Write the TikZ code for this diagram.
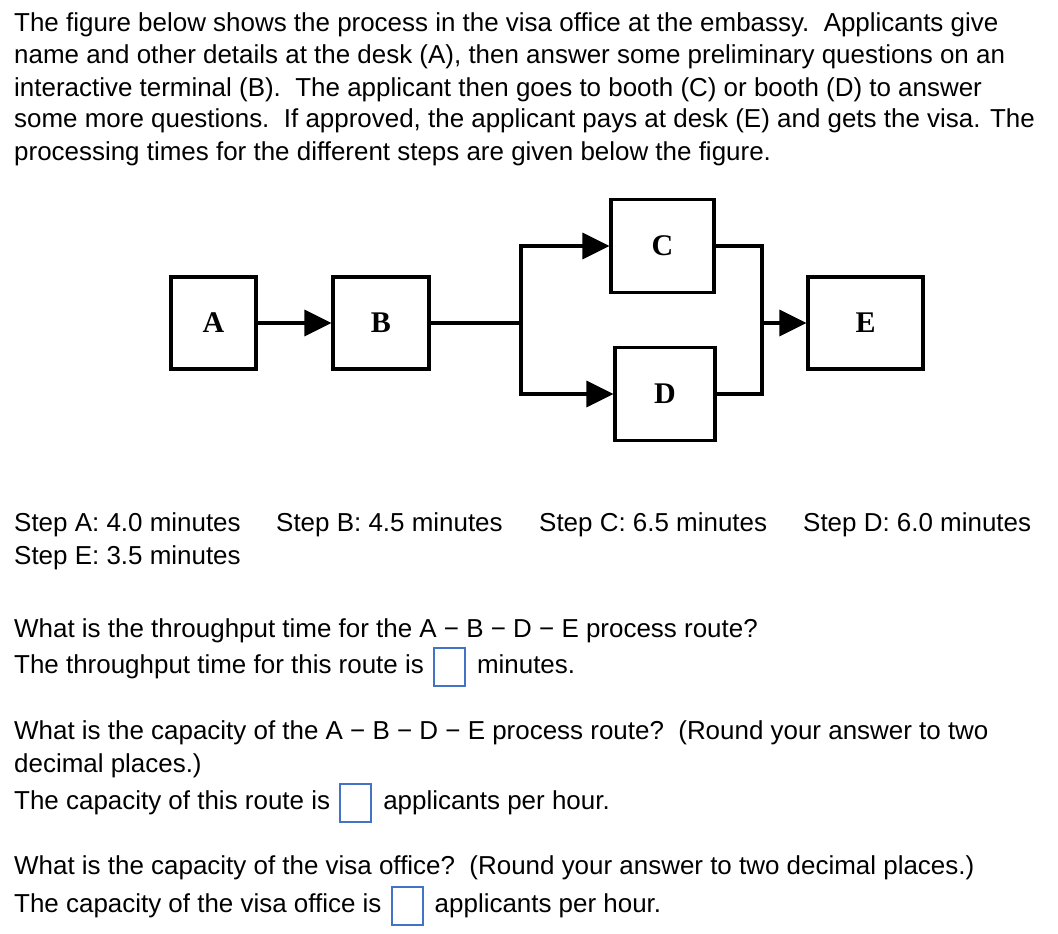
\documentclass[tikz,border=0pt]{standalone}
\usepackage{fontspec}
\setmainfont{Liberation Sans}
\newfontfamily\stepfont{Liberation Serif}
\usetikzlibrary{arrows.meta,positioning}
\definecolor{boxblue}{HTML}{4472C4}
\newcommand{\qsize}{\fontsize{25.95}{32}\selectfont}
\begin{document}
\begin{tikzpicture}[x=1pt,y=-1pt]
        % Styles
        \tikzstyle{txt}=[anchor=base west,inner sep=0pt,font=\qsize]
        \tikzstyle{stepbox}=[draw,line width=3.2pt,inner sep=0pt,font=\stepfont\bfseries\fontsize{30}{30}\selectfont]
        \tikzstyle{flow}=[line width=3.2pt]
        \tikzstyle{ansbox}=[draw=boxblue,line width=1.8pt,fill=white,minimum width=31pt,minimum height=38pt,inner sep=0pt]
        \useasboundingbox (0,0) rectangle (1058,934);
        % Intro text
        \node[txt] (l1) at (14,32) {The figure below shows the process in the visa office at the embassy.\ \ Applicants give};
        \node[txt] (l2) at (14,64) {name and other details at the desk (A), then answer some preliminary questions on an};
        \node[txt] (l3) at (14,96) {interactive terminal (B).\ \ The applicant then goes to booth (C) or booth (D) to answer};
        \node[txt] (l4) at (14,128) {some more questions.\ \ If approved, the applicant pays at desk (E) and gets the visa. The};
        \node[txt] (l5) at (14,160) {processing times for the different steps are given below the figure.};
        % The graphic
        \node[stepbox,minimum width=85pt,minimum height=92pt] (A) at (213.5,323) {A};
        \node[stepbox,minimum width=96pt,minimum height=92pt] (B) at (381,323) {B};
        \node[stepbox,minimum width=103pt,minimum height=93pt] (C) at (662.5,246) {C};
        \node[stepbox,minimum width=100pt,minimum height=93pt] (D) at (665,394) {D};
        \node[stepbox,minimum width=115pt,minimum height=92pt] (E) at (865.5,323) {E};
        \coordinate (split) at (521,323);
        \coordinate (join) at (762,323);
        \begin{scope}[style=flow]
            \draw[-{Triangle[length=27pt,width=26pt]}] (A) -- (B);
            \draw (B) -- (split);
            \draw[-{Triangle[length=27pt,width=26pt]}] (split) |- (C);
            \draw[-{Triangle[length=27pt,width=26pt]}] (split) |- (D);
            \draw (C) -| (join);
            \draw (D) -| (join);
            \draw[-{Triangle[length=27pt,width=26pt]}] (join) -- (E);
        \end{scope}
        % Processing times
        \node[txt] (sa) at (14,531) {Step A: 4.0 minutes};
        \node[txt] (sb) at (276,531) {Step B: 4.5 minutes};
        \node[txt] (sc) at (539,531) {Step C: 6.5 minutes};
        \node[txt] (sd) at (803,531) {Step D: 6.0 minutes};
        \node[txt] (se) at (14,564) {Step E: 3.5 minutes};
        % Questions
        \node[txt] (q1) at (14,637) {What is the throughput time for the A − B − D − E process route?};
        \node[txt] (q1a) at (14,673) {The throughput time for this route is};
        \node[ansbox,right=9pt of q1a.east,yshift=-1pt] (box1) {};
        \node[txt] (q1b) at ([xshift=11pt]box1.east |- q1a.base) {minutes.};
        \node[txt] (q2) at (14,739) {What is the capacity of the A − B − D − E process route?\ \ (Round your answer to two};
        \node[txt] (q2b) at (14,772) {decimal places.)};
        \node[txt] (q2a) at (14,809) {The capacity of this route is};
        \node[ansbox,right=9pt of q2a.east,yshift=-1pt] (box2) {};
        \node[txt] (q2c) at ([xshift=11pt]box2.east |- q2a.base) {applicants per hour.};
        \node[txt] (q3) at (14,874) {What is the capacity of the visa office?\ \ (Round your answer to two decimal places.)};
        \node[txt] (q3a) at (14,912) {The capacity of the visa office is};
        \node[ansbox,right=9pt of q3a.east,yshift=-1pt] (box3) {};
        \node[txt] (q3b) at ([xshift=11pt]box3.east |- q3a.base) {applicants per hour.};
\end{tikzpicture}
\end{document}
